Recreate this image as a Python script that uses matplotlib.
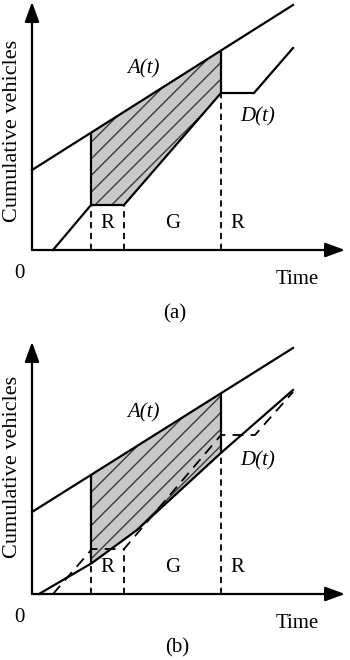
import numpy as np
import matplotlib.pyplot as plt

plt.rcParams["font.family"] = ["Liberation Serif", "DejaVu Serif"]
plt.rcParams["hatch.linewidth"] = 1.0

# signal phase boundaries (start of R, start of G, start of next R)
signal_t = [59, 92, 189]
phase_labels = ["R", "G", "R"]

# arrival curve A(t), straight line
arr_t = [0, 261]
arr_a = [80, 245]
arr_b = [82, 246]

# panel (a): stepped departure curve D(t)
dep_t = [21, 59, 92, 189, 222, 261]
dep_n = [0, 45, 45, 157, 157, 202]

# panel (b): stepped curve (dashed) and the smoothed D(t)
step_t = [21, 60, 92, 189, 223, 261]
step_n = [0, 45, 45, 159, 159, 202]
fit_t = [7, 60, 105, 190, 261]
fit_n = [0, 31, 64, 142, 204]

LW = 1.6


def draw_panel(ax, a_n, d_t, d_n, step=None, ylab_y=120, top=250):
    ax.set_xlim(-32, 318)
    ax.axis("off")

    arrow = dict(arrowstyle="-|>,head_length=0.6,head_width=0.22",
                 mutation_scale=20, lw=LW, color="k", shrinkA=0, shrinkB=0)
    ax.annotate("", xy=(313, 0), xytext=(0, 0), arrowprops=arrow)
    ax.annotate("", xy=(0, top), xytext=(0, 0), arrowprops=arrow)

    # delay area between A(t) and D(t) during the red + green period
    t0, t1 = signal_t[0], signal_t[-1]
    tt = np.array([t0] + [t for t in d_t if t0 < t < t1] + [t1], dtype=float)
    lower = np.interp(tt, d_t, d_n)
    upper = np.interp(tt, arr_t, a_n)
    ax.fill_between(tt, lower, upper, facecolor="#c8c8c8", edgecolor="#3a3a3a",
                    hatch="//", linewidth=0)
    ax.vlines([tt[0], tt[-1]], [lower[0], lower[-1]], [upper[0], upper[-1]],
              color="k", lw=LW)

    ax.plot(arr_t, a_n, color="k", lw=LW)
    ax.plot(d_t, d_n, color="k", lw=LW)
    if step is not None:
        ax.plot(step[0], step[1], color="k", lw=1.3, linestyle=(0, (6, 4)))

    # dashed signal boundaries up to the lowest departure curve
    curves = [(d_t, d_n)] + ([step] if step is not None else [])
    tops = [min(np.interp(s, c[0], c[1]) for c in curves) for s in signal_t]
    ax.vlines(signal_t, 0, tops, color="k", lw=1.3, linestyles=(0, (3.5, 2.5)))

    mids = [(signal_t[0] + signal_t[1]) / 2, (signal_t[1] + signal_t[2]) / 2,
            signal_t[2] + 16]
    for x, lab in zip(mids, phase_labels):
        ax.text(x, 26, lab, fontsize=15, ha="center", va="center")

    ax.text(111, 181, "A(t)", fontsize=15, style="italic", ha="center", va="center")
    ax.text(226, 133, "D(t)", fontsize=15, style="italic", ha="center", va="center")
    ax.text(-13, -24, "0", fontsize=15, ha="center", va="center")
    ax.text(265, -29, "Time", fontsize=15, ha="center", va="center")
    ax.text(-19, ylab_y, "Cumulative vehicles", fontsize=16, rotation=90,
            ha="center", va="center")


fig = plt.figure(figsize=(3.5, 6.6), dpi=100)

ax_a = fig.add_axes([0, 0.5, 1, 0.5])
ax_a.set_ylim(-80, 250)
draw_panel(ax_a, arr_a, dep_t, dep_n, ylab_y=119, top=248)
ax_a.text(143, -64, "(a)", fontsize=15, ha="center", va="center")

ax_b = fig.add_axes([0, 0, 1, 0.5])
ax_b.set_ylim(-66, 264)
draw_panel(ax_b, arr_b, fit_t, fit_n, step=(step_t, step_n),
           ylab_y=127, top=252)
ax_b.text(145, -54, "(b)", fontsize=15, ha="center", va="center")

fig.savefig("out.png", dpi=100)
plt.close(fig)
